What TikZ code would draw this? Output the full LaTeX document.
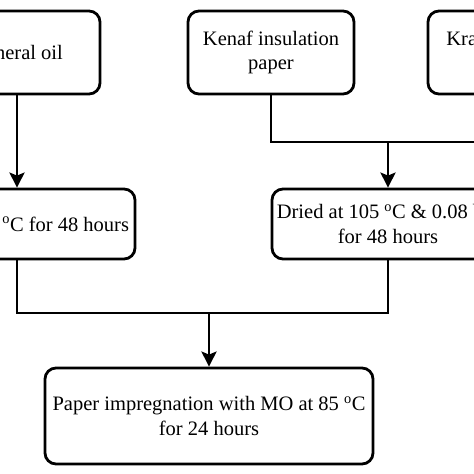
\documentclass[tikz,border=0pt]{standalone}
\usepackage{fontspec}
\setmainfont{Liberation Serif}
\usetikzlibrary{arrows.meta}
\tikzset{
  box/.style={draw=black, line width=2.8pt, rounded corners=11pt, align=center,
    inner sep=0pt, font=\fontsize{20.5}{24.5}\selectfont},
  link/.style={draw=black, line width=2.8pt},
  arr/.style={link, -{Stealth[length=15pt,width=15pt,inset=3pt]}}
}
\newcommand{\degC}{\textsuperscript{o}C}
\begin{document}
\begin{tikzpicture}[x=1pt,y=-1pt]
\useasboundingbox (0,0) rectangle (474,474);
\clip (0,0) rectangle (474,474);
\node[box, minimum width=166pt, minimum height=83pt] (mo) at (17,52.5) {Mineral oil};
\node[box, minimum width=166pt, minimum height=83pt] (kenaf) at (271,52.5) {Kenaf insulation\\paper};
\node[box, minimum width=166pt, minimum height=83pt] (kraft) at (511,52.5) {Kraft insulation\\paper};
\node[box, minimum width=236pt, minimum height=70pt] (d1) at (17,224) {Dried at 85 \degC{} for 48 hours};
\node[box, minimum width=232pt, minimum height=70pt] (d2) at (388,224) {Dried at 105 \degC{} \& 0.08 bar\\for 48 hours};
\node[box, minimum width=328pt, minimum height=96pt] (imp) at (209,416) {Paper impregnation with MO at 85 \degC\\for 24 hours};
\coordinate (j1) at (388,142);
\coordinate (j2) at (209,313);
\draw[arr] (mo.south) -- (d1.north);
\draw[link] (kenaf.south) |- (j1) -| (kraft.south);
\draw[arr] (j1) -- (d2.north);
\draw[link] (d1.south) |- (j2) -| (d2.south);
\draw[arr] (j2) -- (imp.north);
\end{tikzpicture}
\end{document}
